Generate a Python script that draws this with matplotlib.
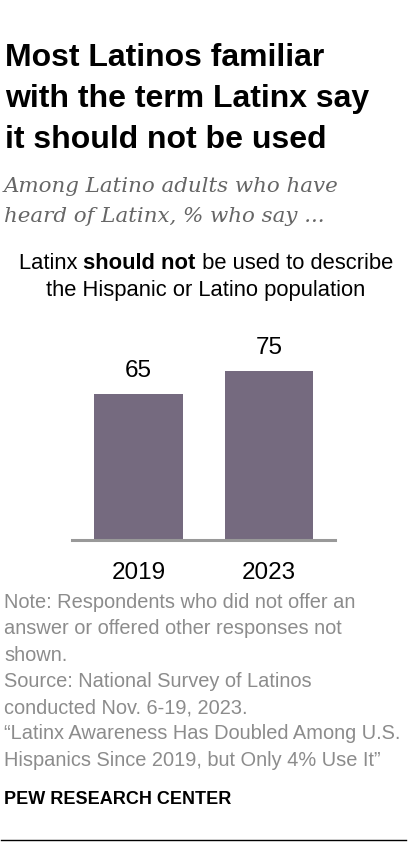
import matplotlib
matplotlib.use("Agg")
import matplotlib.pyplot as plt

years = ["2019", "2023"]
values = [65, 75]

title_lines = ["Most Latinos familiar", "with the term Latinx say", "it should not be used"]
subtitle_lines = ["Among Latino adults who have", "heard of Latinx, % who say ..."]
note_lines = [
    "Note: Respondents who did not offer an",
    "answer or offered other responses not",
    "shown.",
    "Source: National Survey of Latinos",
    "conducted Nov. 6-19, 2023.",
    "\u201cLatinx Awareness Has Doubled Among U.S.",
    "Hispanics Since 2019, but Only 4% Use It\u201d",
]

W, H = 410, 854
BAR_COLOR = "#756a7f"
NOTE_COLOR = "#8c8c8c"


def fy(py):
    # pixel from top -> figure fraction
    return 1 - py / H


def fx(px):
    return px / W


fig = plt.figure(figsize=(W / 100, H / 100), dpi=100)

# title
for i, line in enumerate(title_lines):
    fig.text(fx(5), fy(66 + i * 41), line, fontsize=23, fontweight="bold",
             family="Liberation Sans", color="black", va="baseline")

# subtitle
for i, line in enumerate(subtitle_lines):
    fig.text(fx(4), fy(192 + i * 30), line, fontsize=15.4, style="italic",
             family="DejaVu Serif", color="#666666", va="baseline")

# chart heading with a bold part, centered
fig.canvas.draw()
renderer = fig.canvas.get_renderer()
parts = [("Latinx ", "normal"), ("should not", "bold"), (" be used to describe", "normal")]
texts = []
widths = []
for s, w in parts:
    t = fig.text(0, fy(269), s, fontsize=15.8, fontweight=w,
                 family="Liberation Sans", va="baseline")
    texts.append(t)
    widths.append(t.get_window_extent(renderer).width)
total = sum(widths)
x0 = 206 - total / 2
for t, wd in zip(texts, widths):
    t.set_x(fx(x0))
    x0 += wd
fig.text(fx(206), fy(296), "the Hispanic or Latino population", fontsize=15.8,
         family="Liberation Sans", ha="center", va="baseline")

# bars
ax_left, ax_right, ax_bottom = 72, 335, 541
ymax = 100
px_per_unit = 2.25
ax_top = ax_bottom - ymax * px_per_unit
ax = fig.add_axes([fx(ax_left), fy(ax_bottom), fx(ax_right - ax_left),
                   (ax_bottom - ax_top) / H])
xs = range(len(values))
bars = ax.bar(xs, values, width=0.68, color=BAR_COLOR, zorder=2)
ax.set_xlim(-0.51, 1.506)
ax.set_ylim(0, ymax)
for b, v in zip(bars, values):
    ax.text(b.get_x() + b.get_width() / 2, v + 8, str(v), ha="center",
            va="baseline", fontsize=17.5, family="Liberation Sans")
for s in ["top", "right", "left"]:
    ax.spines[s].set_visible(False)
ax.spines["bottom"].set_color("#999999")
ax.spines["bottom"].set_linewidth(2.2)
ax.set_yticks([])
ax.set_xticks(list(xs))
ax.set_xticklabels(years, fontsize=17.5, family="Liberation Sans")
ax.tick_params(axis="x", length=0, pad=15)

# notes
for i, line in enumerate(note_lines):
    fig.text(fx(4), fy(608 + i * 26.3), line, fontsize=14.4,
             family="Liberation Sans", color=NOTE_COLOR, va="baseline")

fig.text(fx(4), fy(804), "PEW RESEARCH CENTER", fontsize=13, fontweight="bold",
         family="Liberation Sans", color="black", va="baseline")

fig.add_artist(plt.Line2D([fx(1), fx(406)], [fy(841), fy(841)], color="black",
                          linewidth=1))

fig.savefig("out.png", dpi=100)
